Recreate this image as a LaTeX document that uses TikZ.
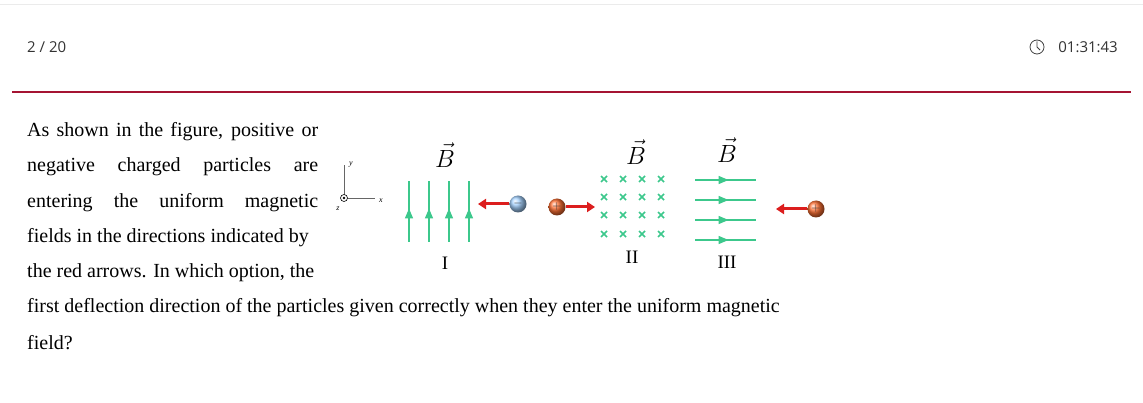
\documentclass[tikz,border=0pt]{standalone}
\usepackage{fontspec}
\setmainfont{Liberation Serif}
\newfontfamily\uifont{Open Sans}
\usetikzlibrary{arrows.meta,decorations.markings}
\definecolor{fg}{RGB}{60,200,140}
\definecolor{redar}{RGB}{220,30,30}
\definecolor{topline}{RGB}{165,20,50}
\tikzset{
 txt/.style={anchor=west,inner sep=0pt,font=\fontsize{20}{24}\selectfont},
 ui/.style={inner sep=0pt,font=\uifont\fontsize{15}{17}\selectfont,text=black!80},
 bvec/.style={inner sep=0pt,font=\fontsize{26}{28}\selectfont},
 roman/.style={inner sep=0pt,font=\fontsize{19}{21}\selectfont},
 fline/.style={fg,line width=1.3pt,postaction={decorate},decoration={markings,mark=at position 0.55 with {\arrow{Triangle[length=10pt,width=8pt]}}}},
 redarrow/.style={redar,line width=3pt,-{Triangle[length=8pt,width=10pt]}},
 crossline/.style={fg,line width=1.5pt},
 posball/.style={circle,minimum size=17pt,inner sep=0pt,ball color=orange!60!red!80!white,text=black!80,font=\sffamily\fontsize{12}{12}\selectfont},
 negball/.style={circle,minimum size=17pt,inner sep=0pt,ball color=cyan!50!blue!35,text=black!80,font=\sffamily\fontsize{12}{12}\selectfont},
 axl/.style={inner sep=0pt,font=\itshape\fontsize{8}{8}\selectfont}
}
\begin{document}
\begin{tikzpicture}[x=1pt,y=-1pt]
\useasboundingbox[fill=white] (0,0) rectangle (1143,403);
\draw[black!8,line width=1pt] (0,5) -- (1143,5);
\node[ui,anchor=west] (pg) at (27,47) {2 / 20};
\node[ui,anchor=east] (tm) at (1118,47) {01:31:43};
\draw[black!75,line width=0.8pt] (1037,47) circle (7);
\draw[black!75,line width=0.8pt] (1037,41.5) -- (1037,47) -- (1040,50);
\draw[topline,line width=2pt] (12,92) -- (1131,92);
% paragraph
\node[txt] (l1) at (27,132) {\makebox[291pt][s]{As shown in the figure, positive or}};
\node[txt] (l2) at (27,167) {\makebox[291pt][s]{negative charged particles are}};
\node[txt] (l3) at (27,203) {\makebox[291pt][s]{entering the uniform magnetic}};
\node[txt] (l4) at (27,238) {fields in the directions indicated by};
\node[txt] (l5) at (27,273) {the red arrows. In which option, the};
\node[txt] (l6) at (27,308) {first deflection direction of the particles given correctly when they enter the uniform magnetic};
\node[txt] (l7) at (27,343) {field?};
% axes
\coordinate (o) at (344,198);
\coordinate (ay) at (344,165);
\coordinate (ax) at (375,198);
\draw[black!60,line width=0.7pt] (o) -- (ay);
\draw[black!60,line width=0.7pt] (o) -- (ax);
\draw[black,line width=0.6pt,fill=white] (o) circle (3.5);
\fill (o) circle (1.3);
\node[axl] (ly) at (351,165) {y};
\node[axl] (lx) at (381,201) {x};
\node[axl] (lz) at (338,209) {z};
% field I
\node[bvec] (b1) at (445,155) {$\vec{B}$};
\foreach \x in {409,429,449,469}{\draw[fline] (\x,242) -- (\x,181);}
\node[negball] (n1) at (518,204) {$-$};
\draw[redarrow] (n1.west) -- (478,204);
\node[roman] (r1) at (445,263) {I};
% field II
\node[bvec] (b2) at (636,152) {$\vec{B}$};
\foreach \x in {604,623,642,661}{\foreach \y in {179,197,215,234}{
  \draw[crossline] (\x-3,\y-3) -- (\x+3,\y+3) (\x-3,\y+3) -- (\x+3,\y-3);}}
\node[posball] (p2) at (557,207) {+};
\draw[redarrow] (p2.east) -- (595,207);
\node[roman] (r2) at (632,257) {II};
% field III
\node[bvec] (b3) at (727,150) {$\vec{B}$};
\foreach \y in {180,200,220,240}{\draw[fline] (695,\y) -- (756,\y);}
\node[posball] (p3) at (816,209) {+};
\draw[redarrow] (p3.west) -- (776,209);
\node[roman] (r3) at (727,262) {III};
\end{tikzpicture}
\end{document}
